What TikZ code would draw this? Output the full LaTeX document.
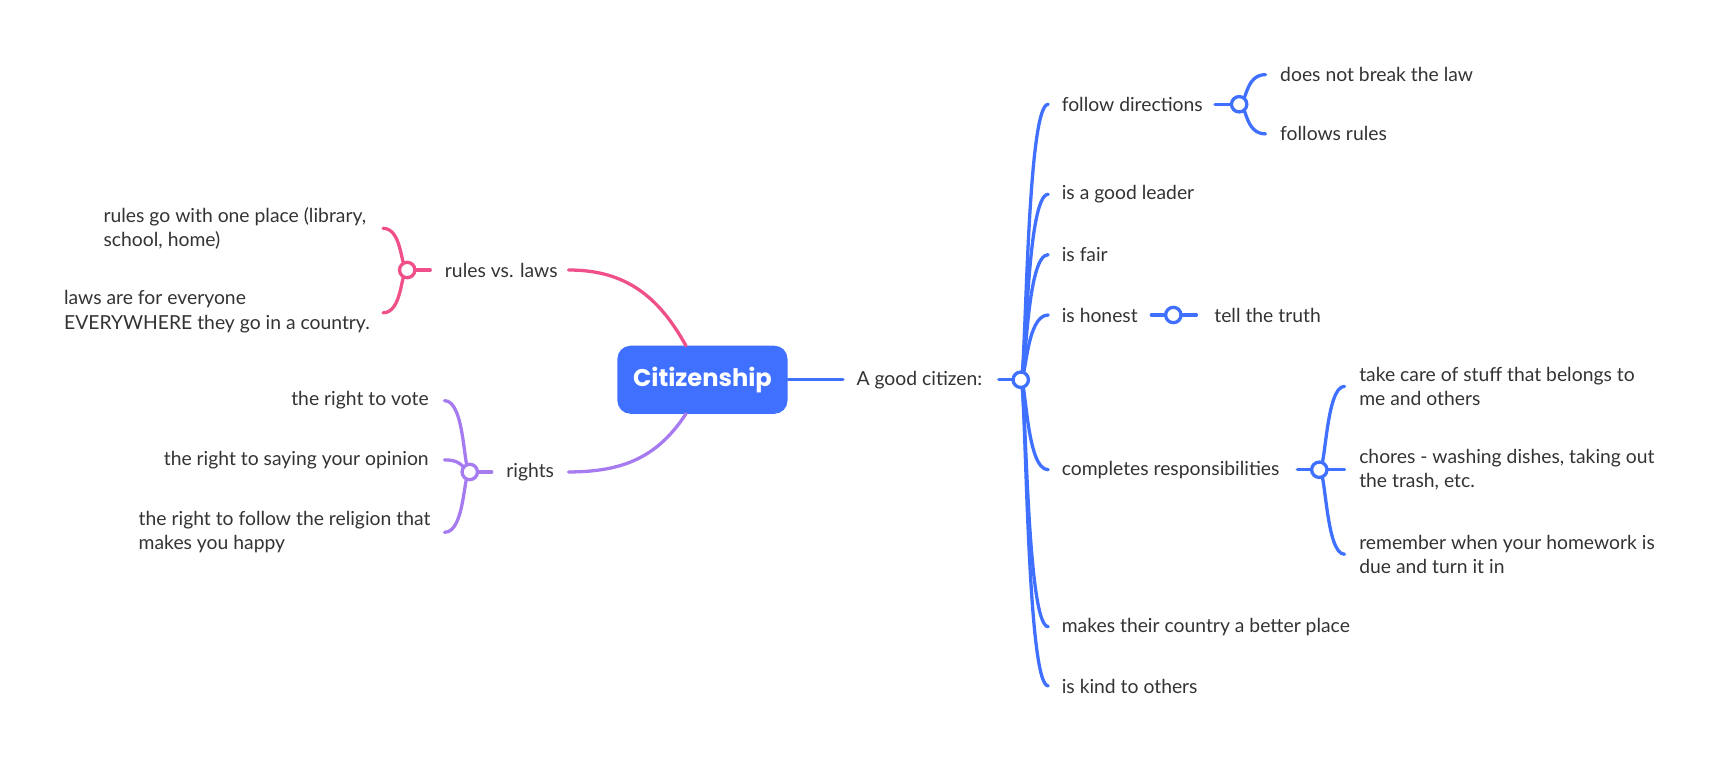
\documentclass[tikz,border=0pt]{standalone}
\usepackage{fontspec}
\setmainfont{Lato}
\newfontfamily\titlefont{Poppins}
\definecolor{cblue}{HTML}{4070FF}
\definecolor{cpink}{HTML}{F0508A}
\definecolor{cpurp}{HTML}{A77BF0}
\definecolor{ctext}{HTML}{333333}
\begin{document}
\begin{tikzpicture}[x=0.5pt,y=-0.5pt,
  t/.style={anchor=west,inner sep=0,align=left,text=ctext,font=\fontsize{8.8}{11}\selectfont},
  tr/.style={t,anchor=east,align=right},
  ln/.style={line width=1.5pt,line cap=round},
  hub/.style={circle,draw,line width=1.5pt,fill=white,minimum size=7pt,inner sep=0}]
\useasboundingbox (0,0) rectangle (1568,694);
\node[fill=cblue,rounded corners=6pt,minimum width=77.5pt,minimum height=31pt,text=white,font=\titlefont\bfseries\fontsize{11}{13}\selectfont] (c) at (640,346) {Citizenship};
% right
\node[t] (g) at (780,346) {A good citizen:};
\coordinate (h) at (930,346);
\draw[ln,cblue] (c.east) -- (768,346);
\draw[ln,cblue] (910,346) -- (h);
\foreach \n/\y/\s in {a/95/follow directions,b/177/is a good leader,cc/232/is fair,d/287/is honest,e/428/completes responsibilities,f/571/makes their country a better place,k/625/is kind to others}{
  \node[t] (\n) at (967,\y) {\s};
  \draw[ln,cblue] (h) .. controls (935,346) and (935,\y) .. (955,\y);
}
\node[hub,draw=cblue] at (h) {};
% follow directions
\coordinate (ha) at (1129,95);
\draw[ln,cblue] (1107,95) -- (ha);
\node[t] (a1) at (1166,68) {does not break the law};
\node[t] (a2) at (1166,122) {follows rules};
\foreach \y in {68,122}{\draw[ln,cblue] (ha) .. controls (1136,95) and (1134,\y) .. (1153,\y);}
\node[hub,draw=cblue] at (ha) {};
% honest
\coordinate (hd) at (1069,287);
\node[t] (d1) at (1106,287) {tell the truth};
\draw[ln,cblue] (1049,287) -- (1090,287);
\node[hub,draw=cblue] at (hd) {};
% responsibilities
\coordinate (he) at (1202,428);
\draw[ln,cblue] (1182,428) -- (he);
\node[t] (e1) at (1238,352) {take care of stuff that belongs to\\me and others};
\node[t] (e2) at (1238,428) {chores - washing dishes, taking out\\the trash, etc.};
\node[t] (e3) at (1238,505) {remember when your homework is\\due and turn it in};
\foreach \y in {352,428,505}{\draw[ln,cblue] (he) .. controls (1208,428) and (1208,\y) .. (1225,\y);}
\node[hub,draw=cblue] at (he) {};
% rules vs laws
\node[t] (r) at (405,246) {rules vs. laws};
\draw[ln,cpink] (625,315) .. controls (600,270) and (570,246) .. (518,246);
\coordinate (hr) at (371,246);
\draw[ln,cpink] (hr) -- (392,246);
\node[t] (r1) at (94,208) {rules go with one place (library,\\school, home)};
\node[t] (r2) at (58,284) {laws are for everyone\\EVERYWHERE they go in a country.};
\foreach \y in {208,285}{\draw[ln,cpink] (hr) .. controls (365,246) and (367,\y) .. (349,\y);}
\node[hub,draw=cpink] at (hr) {};
% rights
\node[t] (q) at (461,430) {rights};
\draw[ln,cpurp] (625,377) .. controls (600,415) and (570,430) .. (518,430);
\coordinate (hq) at (428,430);
\draw[ln,cpurp] (hq) -- (448,430);
\node[tr] (q1) at (391,365) {the right to vote};
\node[tr] (q2) at (391,419) {the right to saying your opinion};
\node[t] (q3) at (126,485) {the right to follow the religion that\\makes you happy};
\foreach \y in {365,419,485}{\draw[ln,cpurp] (hq) .. controls (422,430) and (424,\y) .. (405,\y);}
\node[hub,draw=cpurp] at (hq) {};
\end{tikzpicture}
\end{document}
